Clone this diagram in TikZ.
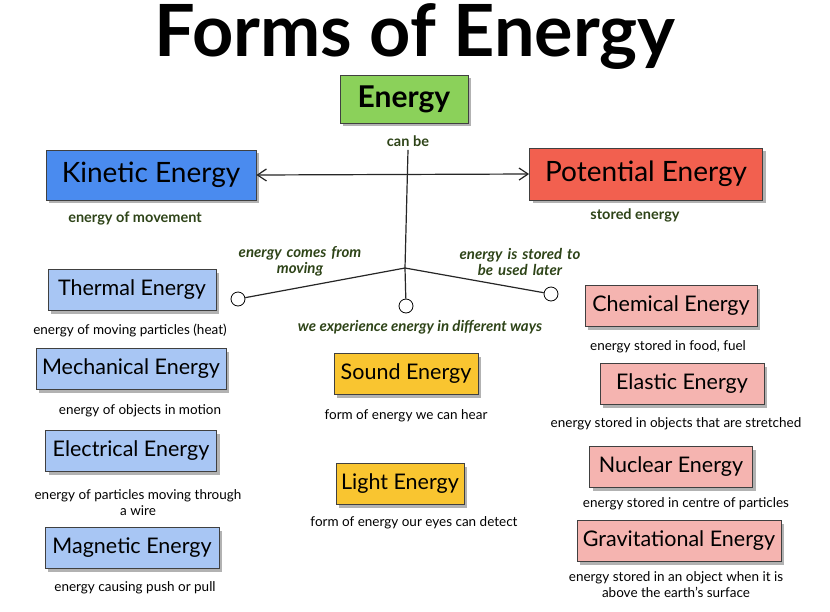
\documentclass[tikz,border=0pt]{standalone}
\usepackage{fontspec}
\setmainfont{Lato}
\usetikzlibrary{shadows,arrows.meta}
\definecolor{topGreen}{HTML}{8BD15A}
\definecolor{kinBlue}{HTML}{4A8BEF}
\definecolor{potRed}{HTML}{F2604F}
\definecolor{kinLight}{HTML}{A8C6F4}
\definecolor{midYellow}{HTML}{F9C530}
\definecolor{potPink}{HTML}{F5B4B0}
\definecolor{noteGreen}{HTML}{2E4418}

\begin{document}
\begin{tikzpicture}
[x=1pt,y=-1pt,
  boxDecorate/.style={draw=black!75,thick,inner sep=0pt,
    drop shadow={shadow xshift=3pt,shadow yshift=-3pt,fill=black!60}},
  noteDecorate/.style={text=noteGreen,font=\bfseries\itshape\fontsize{15}{16}\selectfont,align=center},
  descDecorate/.style={font=\fontsize{13.5}{16}\selectfont,align=center},
  lineDecorate/.style={very thick,black!85},
  endDecorate/.style={shape=circle,draw,thick,fill=white,minimum size=14pt,inner sep=0pt}]
\useasboundingbox[fill=white] (0,0) rectangle (830,611);
%% title and main boxes
\node (title) at (415,37) {\fontsize{72}{74}\selectfont\bfseries Forms of Energy};
\node (energy) at (404,99) [boxDecorate,fill=topGreen,minimum width=128pt,minimum height=48pt]
  {\fontsize{30}{32}\selectfont\bfseries Energy};
\node (canbe) at (408,141) [text=noteGreen,font=\bfseries\fontsize{14.5}{15}\selectfont] {can be};
\node (kinetic) at (151,175) [boxDecorate,fill=kinBlue,minimum width=210pt,minimum height=50pt]
  {\fontsize{28}{30}\selectfont Kinetic Energy};
\node (potential) at (646,174) [boxDecorate,fill=potRed,minimum width=233pt,minimum height=52pt]
  {\fontsize{28}{30}\selectfont Potential Energy};
\node (kinnote) at (135,218) [text=noteGreen,font=\bfseries\fontsize{14.5}{15}\selectfont] {energy of movement};
\node (potnote) at (635,215) [text=noteGreen,font=\bfseries\fontsize{14.5}{15}\selectfont] {stored energy};
%% connectors
\coordinate (hub) at (405,268);
\node (leftEnd) at (238,299) [endDecorate] {};
\node (midEnd) at (406,306) [endDecorate] {};
\node (rightEnd) at (551,294) [endDecorate] {};
\draw[lineDecorate,{Straight Barb[length=9pt,width=12pt]}-{Straight Barb[length=9pt,width=12pt]}] (kinetic.east) -- (potential.west);
\draw[lineDecorate] (canbe.south) -- (hub) -- (midEnd);
\draw[lineDecorate] (hub) -- (leftEnd);
\draw[lineDecorate] (hub) -- (rightEnd);
\node (comes) at (300,261) [noteDecorate,text width=170pt] {energy comes from\\moving};
\node (stored) at (520,262) [noteDecorate,text width=170pt] {energy is stored to\\be used later};
\node (ways) at (420,327) [noteDecorate] {we experience energy in different ways};
%% kinds of energy
\foreach \nodename/\x/\y/\w/\col/\txt in {
  thermal/132/290/168/kinLight/Thermal Energy,
  mechanical/131/369/190/kinLight/Mechanical Energy,
  electrical/131/451/171/kinLight/Electrical Energy,
  magnetic/132/548/174/kinLight/Magnetic Energy,
  sound/406/374/144/midYellow/Sound Energy,
  light/400/484/128/midYellow/Light Energy,
  chemical/671/306/172/potPink/Chemical Energy,
  elastic/682/384/164/potPink/Elastic Energy,
  nuclear/671/467/163/potPink/Nuclear Energy,
  gravitational/679/541/204/potPink/Gravitational Energy}
{
  \node (\nodename) at (\x,\y) [boxDecorate,fill=\col,minimum width=\w pt,minimum height=41pt]
    {\fontsize{21.5}{23}\selectfont\txt};
}
%% descriptions
\foreach \nodename/\x/\y/\txt in {
  thermalText/130/330/energy of moving particles (heat),
  mechanicalText/140/411/energy of objects in motion,
  electricalText/138/503/{energy of particles moving through\\a wire},
  magneticText/135/588/energy causing push or pull,
  soundText/406/416/form of energy we can hear,
  lightText/414/523/form of energy our eyes can detect,
  chemicalText/668/347/{energy stored in food, fuel},
  elasticText/676/424/energy stored in objects that are stretched,
  nuclearText/686/504/energy stored in centre of particles,
  gravitationalText/676/585/{energy stored in an object when it is\\above the earth's surface}}
{
  \node (\nodename) at (\x,\y) [descDecorate] {\txt};
}
\end{tikzpicture}
\end{document}
